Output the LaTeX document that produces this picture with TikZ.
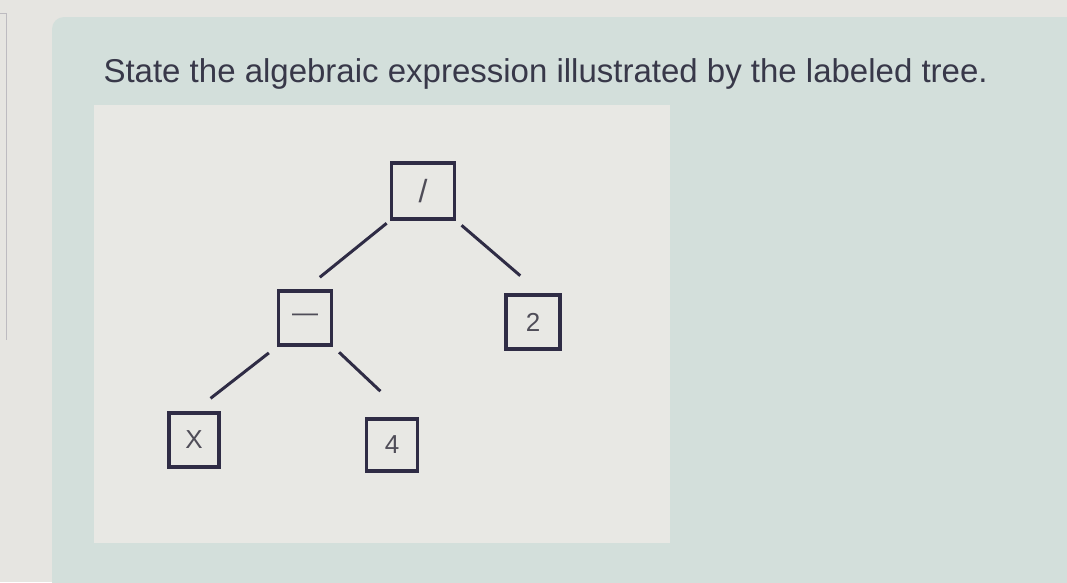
\documentclass[tikz,border=0pt]{standalone}
\usepackage{fontspec}
\setmainfont{Liberation Sans}
\definecolor{outerbg}{HTML}{E6E5E1}
\definecolor{panelbg}{HTML}{D3DFDB}
\definecolor{innerbg}{HTML}{E8E8E4}
\definecolor{edgeline}{HTML}{BDBBC0}
\definecolor{boxline}{HTML}{2F2C45}
\definecolor{labelgray}{HTML}{4F4D58}
\definecolor{titlecol}{HTML}{383849}
\begin{document}
\begin{tikzpicture}[x=1pt,y=-1pt,
        tbox/.style={draw=boxline, line width=3.5pt, text=labelgray,
            font=\fontsize{26}{26}\selectfont, inner sep=0pt},
        link/.style={draw=boxline, line width=3pt}]
        \useasboundingbox (0,0) rectangle (1067,582);
        \clip (0,0) rectangle (1067,582);
        \fill [outerbg] (0,0) rectangle (1067,582);
        \draw [edgeline, line width=1pt] (0,13) -- (6,13) -- (6,340);
        \fill [panelbg, rounded corners=12pt] (52,17) rectangle (1100,620);
        \fill [innerbg] (94,105) rectangle (670,543);
        \node [anchor=base west, text=titlecol, font=\fontsize{33}{38}\selectfont] (title) at (100,82)
            {State the algebraic expression illustrated by the labeled tree.};
        % the tree
        \node [tbox, minimum width=63pt, minimum height=56pt, font=\fontsize{32}{32}\selectfont] (root) at (423,191) {/};
        \node [tbox, minimum width=53pt, minimum height=54pt] (minus) at (305,318) {—};
        \node [tbox, minimum width=54pt, minimum height=54pt] (two) at (533,322) {2};
        \node [tbox, minimum width=50pt, minimum height=54pt] (x) at (194,440) {X};
        \node [tbox, minimum width=51pt, minimum height=52pt] (four) at (392,445) {4};
        \draw [link, shorten <=4pt, shorten >=19pt] (root.south west) -- (minus.north);
        \draw [link, shorten <=7pt, shorten >=27pt] (root.south east) -- (two.75);
        \draw [link, shorten <=10pt, shorten >=21pt] (minus.south west) -- (x.north);
        \draw [link, shorten <=8pt, shorten >=38pt] (minus.south east) -- (four.60);
    \end{tikzpicture}
\end{document}
